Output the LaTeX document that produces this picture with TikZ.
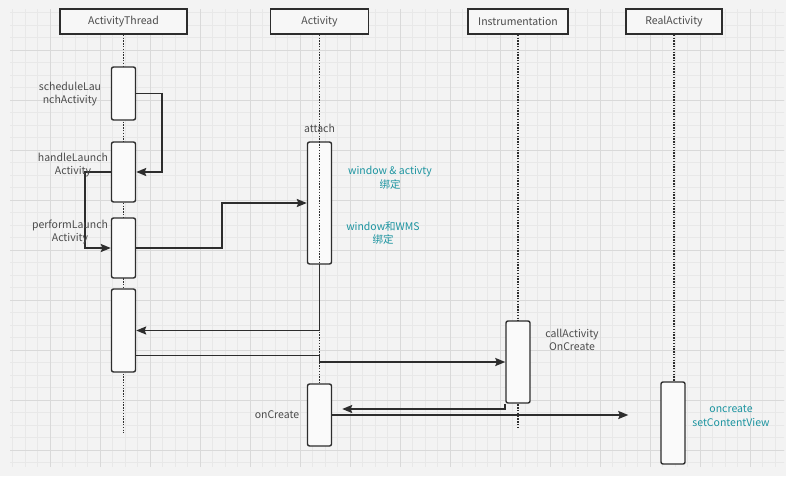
\documentclass[tikz,border=0pt]{standalone}
\usepackage{fontspec}
\setmainfont{Noto Sans CJK SC}
\usetikzlibrary{arrows.meta,backgrounds}
\definecolor{ink}{RGB}{45,45,45}
\definecolor{txt}{RGB}{75,75,75}
\definecolor{note}{RGB}{28,148,160}
\definecolor{paper}{RGB}{243,243,243}
\tikzset{
	head/.style={draw=ink,line width=1.5pt,fill=white!97!black,minimum height=25pt,inner sep=0pt,text=txt},
	bar/.style={draw=ink,line width=1.4pt,fill=white!98!black,rounded corners=2pt,minimum width=24pt,inner sep=0pt},
	life/.style={draw=ink,line width=1.5pt,dash pattern=on 1.4pt off 1.4pt},
	msg/.style={draw=ink,line width=1.7pt,-{Stealth[length=10pt,width=8pt,inset=1.5pt]}},
	lbl/.style={text=txt,align=center,inner sep=0pt},
	tip/.style={lbl,text=note}
}

\begin{document}
\begin{tikzpicture}[x=1pt,y=-1pt,font=\fontsize{10.5}{13.5}\selectfont]
		\useasboundingbox (0,0) rectangle (786,476);
		% heads
		\node[head,minimum width=127pt] (thread) at (123.5,21.5) {ActivityThread};
		\node[head,minimum width=98pt] (act) at (319.5,21.5) {Activity};
		\node[head,minimum width=100pt] (instr) at (518,21.5) {Instrumentation};
		\node[head,minimum width=96pt] (realact) at (674,21.5) {RealActivity};
		% bars
		\node[bar,minimum height=53pt] (sched) at (123.5,93.5) {};
		\node[bar,minimum height=60pt] (handle) at (123.5,172) {};
		\node[bar,minimum height=60pt] (perform) at (123.5,248) {};
		\node[bar,minimum height=83pt] (back) at (123.5,330.5) {};
		\node[bar,minimum height=122pt] (attach) at (319.5,203) {};
		\node[bar,minimum height=62pt] (oncreate) at (319.5,415) {};
		\node[bar,minimum height=82pt] (call) at (518,362) {};
		\node[bar,minimum height=82pt] (real) at (673,423) {};
		\coordinate (threadend) at (123.5,433);
		\coordinate (instrend) at (518,429);
		\begin{pgfonlayer}{background}
			\fill[paper] (0,0) rectangle (786,476);
			\begin{scope}
				\clip (10,10) rectangle (784,466);
				\draw[black!9,line width=.5pt,step=12.5pt] (0,476) grid (786,0);
				\draw[black!15,line width=.8pt,step=50pt] (0,476) grid (786,0);
			\end{scope}
			\draw[life] (thread.south) -- (threadend);
			\draw[life] (act.south) -- (oncreate.north);
			\draw[life] (instr.south) -- (instrend);
			\draw[life] (realact.south) -- (realact.south |- real.north);
		\end{pgfonlayer}
		\draw[life] (attach.north) -- (attach.south);
		% messages
		\draw[msg] (sched.east) -- ++(26,0) |- (handle.east);
		\draw[msg] (handle.west) -- ++(-26,0) |- (perform.west);
		\draw[msg] (perform.east) -- ++(86,0) |- (attach.west);
		\draw[msg] (attach.south) |- (back.east);
		\coordinate (backout) at ([yshift=-25pt]back.east);
		\draw[msg] (backout) -- (backout -| attach.south) |- (call.west);
		\coordinate (oncin) at ([xshift=10pt,yshift=6pt]oncreate.east);
		\draw[msg] (call.south west) |- (oncin);
		\path (oncreate.east -| real.west) coordinate (realcol);
		\coordinate (realin) at ([xshift=-32pt]realcol);
		\draw[msg] (oncreate.east) -- (realin);
		% labels
		\node[lbl] (lsched) at (70,94) {scheduleLau\\nchActivity};
		\node[lbl] (lhandle) at (73,165) {handleLaunch\\Activity};
		\node[lbl] (lperform) at (70,232) {performLaunch\\Activity};
		\node[lbl] (lattach) at (319.5,128) {attach};
		\node[tip] (lwin) at (390,178) {window \& activty\\绑定};
		\node[tip] (lwms) at (383,233) {window和WMS\\绑定};
		\node[lbl] (lcall) at (572,340) {callActivity\\OnCreate};
		\node[lbl] (loncreate) at (277,415) {onCreate};
		\node[tip] (lreal) at (731,416) {oncreate\\setContentView};
	\end{tikzpicture}
\end{document}
